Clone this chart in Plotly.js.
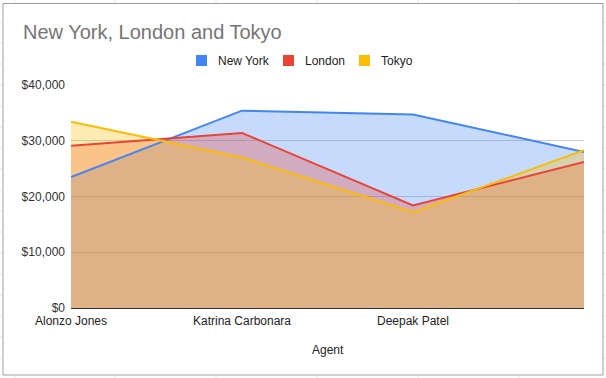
<!DOCTYPE html>
<html>
<head>
<meta charset="utf-8">
<script src="https://cdn.plot.ly/plotly-3.0.1.min.js"></script>
<style>
  html, body { margin: 0; padding: 0; background: #fff; }
  #chart { width: 606px; height: 378px; }
</style>
</head>
<body>
<div id="chart"></div>
<script>
// ---- data ----
const categories = ["Alonzo Jones", "Katrina Carbonara", "Deepak Patel", ""];
const seriesNames = ["New York", "London", "Tokyo"];
const newYork = [23500, 35400, 34700, 28000];
const london  = [29100, 31400, 18400, 26200];
const tokyo   = [33400, 27000, 17200, 28300];
const yTicks  = [0, 10000, 20000, 30000, 40000];
const yTickText = ["$0", "$10,000", "$20,000", "$30,000", "$40,000"];
const seriesColors = ["#4285F4", "#EA4335", "#FBBC04"];
const seriesFills  = ["rgba(66,133,244,0.3)", "rgba(234,67,53,0.3)", "rgba(251,188,4,0.3)"];
const xTitle = "Agent";
const chartTitle = "New York, London and Tokyo";

const seriesValues = [newYork, london, tokyo];
const xIdx = categories.map((c, i) => i);

// ---- geometry helpers (pixel -> paper) ----
const W = 606, H = 378;
const L = 71, R = 22, T = 85, B = 70;
const pw = W - L - R, ph = H - T - B;
const px = x => (x - L) / pw;
const py = y => (H - B - y) / ph;
const FONT = "Arial, 'Liberation Sans', sans-serif";

const traces = [];
// fills first
seriesValues.forEach((vals, i) => {
  traces.push({
    type: "scatter", mode: "lines", x: xIdx, y: vals,
    fill: "tozeroy", fillcolor: seriesFills[i],
    line: { width: 0, color: seriesColors[i] },
    hoverinfo: "skip", showlegend: false
  });
});
// lines on top
seriesValues.forEach((vals, i) => {
  traces.push({
    type: "scatter", mode: "lines", x: xIdx, y: vals, name: seriesNames[i],
    line: { width: 2, color: seriesColors[i] },
    showlegend: false
  });
});

const shapes = [];
const annotations = [];

// frame of the chart
shapes.push({ type: "rect", xref: "paper", yref: "paper",
  x0: px(3), x1: px(603), y0: py(375), y1: py(3.5),
  line: { color: "#9e9e9e", width: 1 }, fillcolor: "rgba(0,0,0,0)", layer: "above" });

// spreadsheet grid stubs outside the frame
[15, 115, 216, 317, 418, 519].forEach(x => {
  shapes.push({ type: "line", xref: "paper", yref: "paper", x0: px(x), x1: px(x), y0: py(0), y1: py(3), line: { color: "#e2e2e2", width: 1 } });
  shapes.push({ type: "line", xref: "paper", yref: "paper", x0: px(x), x1: px(x), y0: py(376), y1: py(378), line: { color: "#e2e2e2", width: 1 } });
});
for (let y = 22; y < 375; y += 21) {
  shapes.push({ type: "line", xref: "paper", yref: "paper", x0: px(0), x1: px(2.5), y0: py(y), y1: py(y), line: { color: "#e2e2e2", width: 1 } });
  shapes.push({ type: "line", xref: "paper", yref: "paper", x0: px(603.5), x1: px(606), y0: py(y), y1: py(y), line: { color: "#e2e2e2", width: 1 } });
}

// legend
const legSq = [196, 283, 359];
const legTx = [216, 303, 379];
seriesNames.forEach((n, i) => {
  shapes.push({ type: "rect", xref: "paper", yref: "paper",
    x0: px(legSq[i]), x1: px(legSq[i] + 11), y0: py(66), y1: py(55),
    line: { width: 0 }, fillcolor: seriesColors[i] });
  annotations.push({ xref: "paper", yref: "paper", x: px(legTx[i]), y: py(60.5),
    xanchor: "left", yanchor: "middle", showarrow: false, text: n,
    font: { family: FONT, size: 12, color: "#222" } });
});

// title
annotations.push({ xref: "paper", yref: "paper", x: px(21), y: py(32),
  xanchor: "left", yanchor: "middle", showarrow: false, text: chartTitle,
  font: { family: FONT, size: 20, color: "#757575" } });

// x axis title
annotations.push({ xref: "paper", yref: "paper", x: 0.5, y: py(350),
  xanchor: "center", yanchor: "middle", showarrow: false, text: xTitle,
  font: { family: FONT, size: 12, color: "#222" } });

const layout = {
  width: W, height: H,
  margin: { l: L, r: R, t: T, b: B, pad: 0 },
  paper_bgcolor: "#fff", plot_bgcolor: "#fff",
  showlegend: false,
  font: { family: FONT, size: 12, color: "#222" },
  xaxis: {
    range: [0, categories.length - 1],
    tickmode: "array", tickvals: xIdx, ticktext: categories,
    showgrid: false, zeroline: false,
    showline: true, linecolor: "#333", linewidth: 1, layer: "above traces",
    ticks: "", ticklabelstandoff: 2,
    tickfont: { family: FONT, size: 12, color: "#222" }, fixedrange: true
  },
  yaxis: {
    range: [0, 40000],
    tickmode: "array", tickvals: yTicks, ticktext: yTickText,
    showgrid: true, gridcolor: "#cccccc", gridwidth: 1,
    zeroline: false, showline: false, ticks: "",
    ticklabelstandoff: 5,
    tickfont: { family: FONT, size: 12, color: "#333" }, fixedrange: true
  },
  shapes: shapes,
  annotations: annotations
};

Plotly.newPlot("chart", traces, layout, { staticPlot: true, displayModeBar: false });
</script>
</body>
</html>
